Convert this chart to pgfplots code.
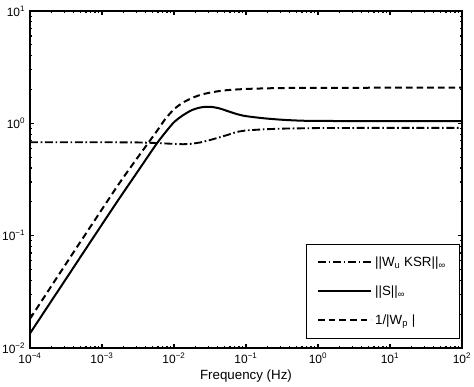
\documentclass[border=0pt]{standalone}
\usepackage{fontspec}
\setmainfont{Liberation Sans}
\usepackage{pgfplots}
\pgfplotsset{compat=1.18}
\begin{document}
\begin{tikzpicture}
\begin{axis}[
  xmode=log, ymode=log,
  xmin=1e-4, xmax=1e2, ymin=1e-2, ymax=1e1,
  scale only axis, width=324pt, height=252.75pt,
  axis line style={line width=1.3pt},
  every tick/.style={black, line width=0.9pt},
  major tick length=3pt, minor tick length=1.8pt,
  xtick={1e-4,1e-3,1e-2,1e-1,1,10,100},
  xticklabels={10\textsuperscript{−4},10\textsuperscript{−3},10\textsuperscript{−2},10\textsuperscript{−1},10\textsuperscript{0},10\textsuperscript{1},10\textsuperscript{2}},
  ytick={1e-2,1e-1,1,10},
  yticklabels={10\textsuperscript{−2},10\textsuperscript{−1},10\textsuperscript{0},10\textsuperscript{1}},
  ticklabel style={font=\fontsize{9}{10}\selectfont},
  xlabel={Frequency (Hz)},
  xlabel style={font=\fontsize{10}{12}\selectfont, yshift=2pt},
  legend style={at={(0.995,0.027)}, anchor=south east, draw=black, line width=1pt,
    font=\fontsize{10}{12}\selectfont, inner xsep=8pt, inner ysep=7pt, row sep=9pt},
  legend cell align=left,
  legend image code/.code={\draw[#1] (0pt,0pt) -- (27pt,0pt); \path (0pt,0pt) -- (40pt,0pt);},
]
\addplot[black, line width=1.4pt, dash pattern=on 6pt off 2pt on 1.2pt off 2pt] coordinates {
(1e-4,0.6792) (1e-3,0.6792) (3.162e-3,0.6761) (5.623e-3,0.6683) (0.01,0.6561)
(0.01334,0.6516) (0.01778,0.6577) (0.02371,0.6776) (0.03162,0.7096) (0.04217,0.7482)
(0.05623,0.7907) (0.07499,0.8395) (0.1,0.8650) (0.1778,0.8851) (0.3162,0.8974)
(1,0.9078) (10,0.9120) (100,0.9120)};
\addlegendentry{||W\textsubscript{u} KSR||\textsubscript{∞}}
\addplot[black, line width=1.5pt, smooth] coordinates {
(1e-4,0.01349) (1.778e-4,0.0236) (3.162e-4,0.04121) (5.623e-4,0.0721) (1e-3,0.1259)
(1.778e-3,0.2188) (3.162e-3,0.3758) (5.623e-3,0.6457) (7.499e-3,0.822) (0.01,1.023)
(0.01334,1.180) (0.01778,1.312) (0.02371,1.387) (0.03162,1.403) (0.04217,1.361)
(0.05623,1.282) (0.07499,1.208) (0.1,1.159) (0.1778,1.109) (0.3162,1.076)
(0.5623,1.057) (1,1.050) (10,1.047) (100,1.047)};
\addlegendentry{||S||\textsubscript{∞}}
\addplot[black, line width=1.5pt, dash pattern=on 5pt off 3pt, smooth] coordinates {
(1e-4,0.01820) (3.162e-4,0.05623) (1e-3,0.1718) (1.778e-3,0.2985) (3.162e-3,0.5012)
(5.623e-3,0.8318) (7.499e-3,1.084) (0.01,1.334) (0.01334,1.531) (0.01778,1.679)
(0.02371,1.799) (0.03162,1.875) (0.04217,1.936) (0.05623,1.977) (0.1,2.023)
(0.1778,2.046) (0.3162,2.061) (1,2.070) (10,2.075) (100,2.080)};
\addlegendentry{1/|W\textsubscript{p} |}
\end{axis}
\pgfresetboundingbox
\useasboundingbox ([xshift=-22.5pt,yshift=-29.25pt]current axis.south west) rectangle ([xshift=9pt,yshift=8.25pt]current axis.north east);
\end{tikzpicture}
\end{document}
